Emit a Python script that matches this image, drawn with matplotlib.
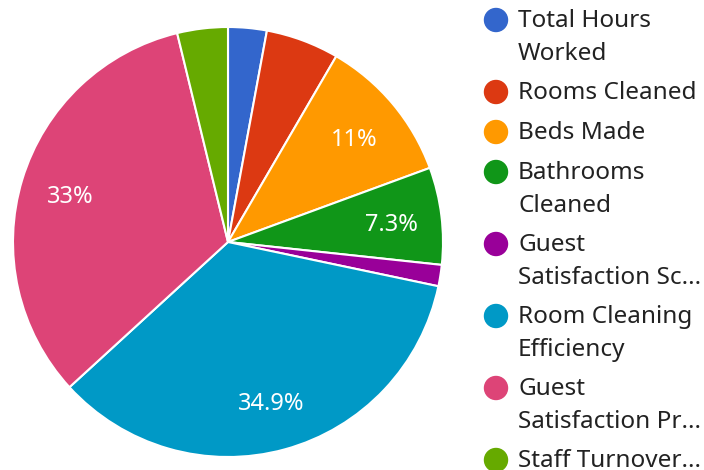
import matplotlib.pyplot as plt
from matplotlib.patches import Circle

plt.rcParams['font.family'] = ['Noto Sans', 'DejaVu Sans']

# Data
labels = ["Total Hours\nWorked", "Rooms Cleaned", "Beds Made", "Bathrooms\nCleaned",
          "Guest\nSatisfaction Sc...", "Room Cleaning\nEfficiency",
          "Guest\nSatisfaction Pr...", "Staff Turnover..."]
values = [2.9, 5.5, 11.0, 7.3, 1.6, 34.9, 33.0, 3.8]
colors = ["#3366cc", "#dc3912", "#ff9900", "#109618",
          "#990099", "#0099c6", "#dd4477", "#66aa00"]


def fmt(p):
    if p < 7:
        return ""
    s = "%.1f" % p
    if s.endswith(".0"):
        s = s[:-2]
    return s + "%"


fig = plt.figure(figsize=(7.04, 4.70), dpi=100)

# Pie
ax = fig.add_axes([13 / 704, 13 / 470, 430 / 704, 430 / 470])
wedges, texts, autotexts = ax.pie(
    values, colors=colors, startangle=90, counterclock=False,
    autopct=fmt, pctdistance=0.765, radius=1,
    wedgeprops=dict(edgecolor="white", linewidth=1.5),
    textprops=dict(color="white", fontsize=17))
# nudge the labels down a touch, google centres on the digits not the box
for t in autotexts:
    x0, y0 = t.get_position()
    t.set_position((x0, y0 - 0.015))
ax.set_xlim(-1.0, 1.0)
ax.set_ylim(-1.0, 1.0)
ax.set_aspect("equal")
ax.axis("off")

# Legend, drawn by hand in pixel coordinates
lg = fig.add_axes([0, 0, 1, 1])
lg.set_xlim(0, 704)
lg.set_ylim(470, 0)
lg.axis("off")
y = 20
for lab, col in zip(labels, colors):
    lg.add_patch(Circle((496, y), 11.5, color=col))
    lg.text(518, y - 11, lab, fontsize=17.5, color="#222222", va="top",
            linespacing=1.5)
    nlines = lab.count("\n") + 1
    y += 40 + 32 * (nlines - 1)

plt.savefig("out.png", dpi=100)
